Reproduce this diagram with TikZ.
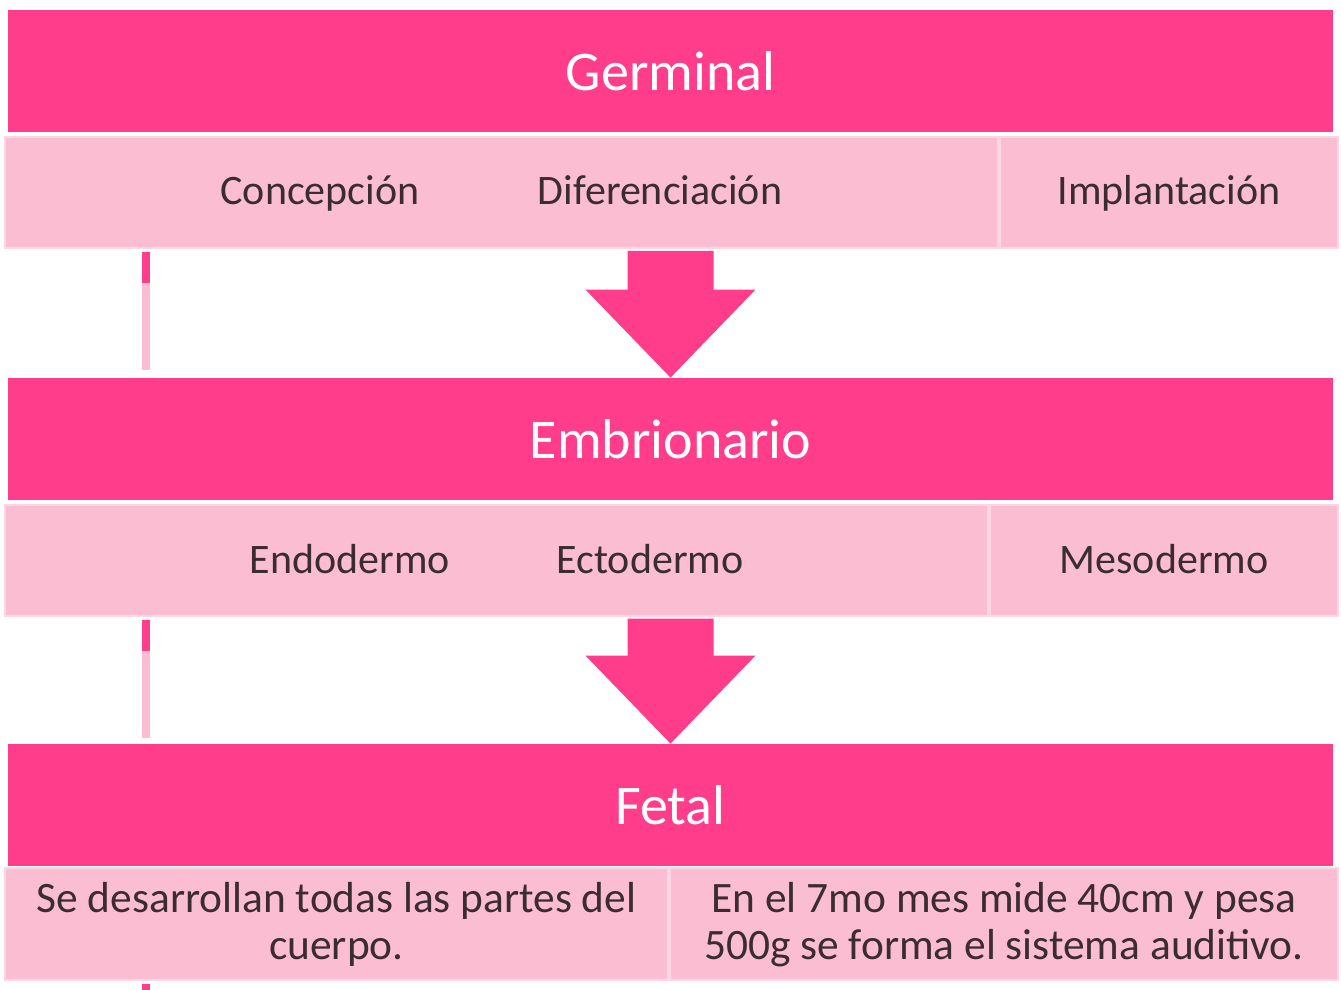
\documentclass[tikz,border=0pt]{standalone}
\usepackage{fontspec}
\setmainfont{Carlito}
\usetikzlibrary{positioning,calc}
\definecolor{hotpink}{RGB}{255,61,138}
\definecolor{palepink}{RGB}{251,189,209}
\definecolor{seam}{RGB}{252,214,226}
\definecolor{ink}{RGB}{58,44,50}
\tikzstyle{stage} = [
    rectangle, fill=hotpink, inner sep=0pt, minimum width=662.5pt, minimum height=61pt,
    text=white, font=\fontsize{28}{30}\selectfont]
\tikzstyle{cell} = [
    rectangle, fill=palepink, draw=seam, line width=1pt, inner sep=0pt,
    minimum height=55.5pt]
\tikzstyle{item} = [text=ink, inner sep=0pt, anchor=base, font=\fontsize{21}{24}\selectfont]
\tikzstyle{line} = [item, font=\fontsize{21.7}{22}\selectfont]
\tikzstyle{blockarrow} = [fill=hotpink]

\begin{document}
\begin{tikzpicture}[x=0.5pt, y=-0.5pt]
\useasboundingbox (0,0) rectangle (1341,990);

% first stage
\node (germinal) [stage] at (670.5,71.5) {Germinal};
\node (germ-left) [cell, minimum width=496.5pt] at (501.5,192.5) {};
\node (germ-right) [cell, minimum width=169pt, right=0pt of germ-left] {};
\node (concepcion) [item] at (320,205) {Concepci\'on};
\node (diferenciacion) [item] at (660,205) {Diferenciaci\'on};
\node (implantacion) [item] at (germ-right.center |- 0,205) {Implantaci\'on};

% second stage
\node (embrionario) [stage] at (670.5,439) {Embrionario};
\node (embr-left) [cell, minimum width=491.5pt] at (496.5,560) {};
\node (embr-right) [cell, minimum width=174pt, right=0pt of embr-left] {};
\node (endodermo) [item] at (350,573) {Endodermo};
\node (ectodermo) [item] at (650,573) {Ectodermo};
\node (mesodermo) [item] at (embr-right.center |- 0,573) {Mesodermo};

% third stage
\node (fetal) [stage] at (670.5,805) {Fetal};
\node (fetal-left) [cell, minimum width=331.5pt, minimum height=56pt] at (336.5,924) {};
\node (fetal-right) [cell, minimum width=334pt, minimum height=56pt, right=0pt of fetal-left] {};
\node (partes) [line] at (fetal-left.center |- 0,912) {Se desarrollan todas las partes del};
\node (cuerpo) [line] at (fetal-left.center |- 0,959) {cuerpo.};
\node (mide) [line] at (fetal-right.center |- 0,912) {En el 7mo mes mide 40cm y pesa};
\node (auditivo) [line] at (fetal-right.center |- 0,959) {500g se forma el sistema auditivo.};

% arrows between stages
\foreach \from/\to in {germ-left/embrionario, embr-left/fetal} {
    \coordinate (tip) at (\to.north);
    \coordinate (top) at ($(tip |- \from.south)+(0,2)$);
    \fill [blockarrow] ($(top)+(-43,0)$) -- ($(top)+(43,0)$) -- ($(tip)+(43,-88)$)
        -- ($(tip)+(85,-88)$) -- (tip) -- ($(tip)+(-85,-88)$) -- ($(tip)+(-43,-88)$) -- cycle;
}

% leftover marks at the left
\foreach \y in {252,620} {
    \fill [hotpink] (142,\y) rectangle (150,\y+31);
    \fill [palepink] (142,\y+31) rectangle (150,\y+118);
}
\fill [hotpink] (142,984) rectangle (150,990);
\end{tikzpicture}
\end{document}
